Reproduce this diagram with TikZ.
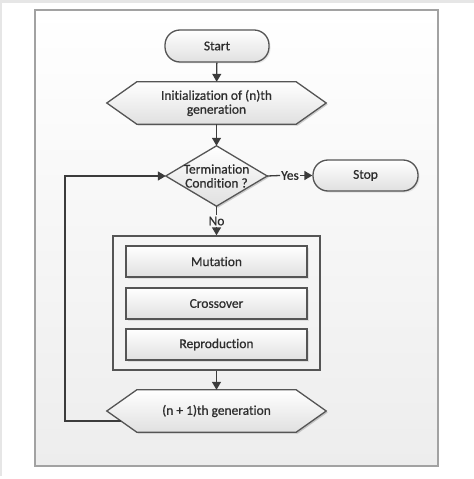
\documentclass[tikz,border=0pt]{standalone}
\usepackage{fontspec}
\setmainfont{Carlito}[Ligatures={NoCommon,NoContextual},FakeBold=0.7]
\usetikzlibrary{arrows.meta,calc,backgrounds,shadows}
\definecolor{lineC}{HTML}{3C3C3C}
\definecolor{edgeC}{HTML}{555555}
\definecolor{frameC}{HTML}{A2A2A2}
\definecolor{shapeBot}{HTML}{E0E0E0}
\definecolor{bgBot}{HTML}{EDEDED}
\definecolor{stripC}{HTML}{E6E6E6}
\definecolor{textC}{HTML}{2E2E2E}
\tikzset{
  txt/.style={font=\fontsize{13.5}{14}\selectfont, align=center, text=textC},
  shapefill/.style={top color=white, bottom color=shapeBot, draw=edgeC, line width=1.3bp},
  shadowfill/.style={fill=black, opacity=0.18, draw=none, transform canvas={shift={(1.5bp,-1.5bp)}}},
  termbox/.style={txt, shapefill, rounded corners=15bp, minimum width=104bp, minimum height=32bp, inner sep=0pt,
    drop shadow={shadow xshift=1.5bp, shadow yshift=-1.5bp, opacity=0.18}},
  procbox/.style={txt, shapefill, minimum width=181bp, minimum height=31bp, inner sep=0pt,
    drop shadow={shadow xshift=1.5bp, shadow yshift=-1.5bp, opacity=0.18}},
  ghost/.style={txt, draw=none, fill=none, inner sep=0pt},
  hexnode/.style={ghost, minimum width=219bp, minimum height=42bp},
  diamnode/.style={ghost, minimum width=101bp, minimum height=60bp},
  lbl/.style={txt, inner sep=1bp},
  contbox/.style={draw=edgeC, line width=1.3bp, fill=none, minimum width=207bp, minimum height=134bp, inner sep=0pt},
  framenode/.style={draw=none, fill=none, minimum width=403bp, minimum height=456bp, inner sep=0pt},
  framefill/.style={top color=white, bottom color=bgBot, draw=frameC, line width=1.6bp},
  link/.style={draw=lineC, line width=1.3bp},
  flow/.style={link, -{Triangle[length=8bp,width=9bp]}},
}
\newcommand\hexoutline[1]{(#1.west) -- ($(#1.north west)+(30,0)$) -- ($(#1.north east)+(-30,0)$) -- (#1.east) -- ($(#1.south east)+(-30,0)$) -- ($(#1.south west)+(30,0)$) -- cycle}
\newcommand\diamoutline[1]{(#1.north) -- (#1.east) -- (#1.south) -- (#1.west) -- cycle}
\begin{document}
\begin{tikzpicture}[x=1bp,y=-1bp]
\useasboundingbox (0,0) rectangle (474,479);
% frame placeholder
\node[framenode] (frame) at (236.5,238) {};
% text-bearing nodes
\node[termbox] (start) at (217,46) {Start};
\node[hexnode] (init) at (216.5,103) {Initialization of (n)th\\generation};
\node[diamnode] (cond) at (216.5,176) {Termination\\Condition ?};
\node[termbox, minimum width=105bp, minimum height=31bp] (stop) at (365.5,175.5) {Stop};
\node[contbox] (cont) at (216.5,303) {};
\node[procbox] (mut) at (216.5,261.5) {Mutation};
\node[procbox] (cross) at (216.5,303.5) {Crossover};
\node[procbox] (repro) at (216.5,344.5) {Reproduction};
\node[hexnode] (next) at (216.5,411) {(n + 1)th generation};
\node[lbl] (yes) at (290,175.5) {Yes};
\node[lbl] (no) at (216.5,221) {No};
\coordinate (loopstart) at (121.3,421);
% shapes drawn behind the text
\begin{pgfonlayer}{background}
  \fill[white] (0,0) rectangle (474,479);
  \fill[stripC] (0,0) rectangle (474,3);
  \fill[stripC] (0,0) rectangle (2,476);
  \path[framefill] (frame.north west) rectangle (frame.south east);
  \path[shadowfill] \hexoutline{init};
  \path[shapefill] \hexoutline{init};
  \path[shadowfill] \diamoutline{cond};
  \path[shapefill] \diamoutline{cond};
  \path[shadowfill] \hexoutline{next};
  \path[shapefill] \hexoutline{next};
\end{pgfonlayer}
% connectors
\draw[flow] (start) -- (init);
\draw[flow] (init) -- (cond);
\draw[link] (cond.east) -- (yes.west);
\draw[flow] (yes.east) -- (stop.west);
\draw[link] (cond.south) -- (no.north);
\draw[flow] (no.south) -- (cont.north);
\draw[flow] (cont.south) -- (next.north);
\draw[flow] (loopstart) -- ++(-56.3,0) |- (cond.west);
\end{tikzpicture}
\end{document}
